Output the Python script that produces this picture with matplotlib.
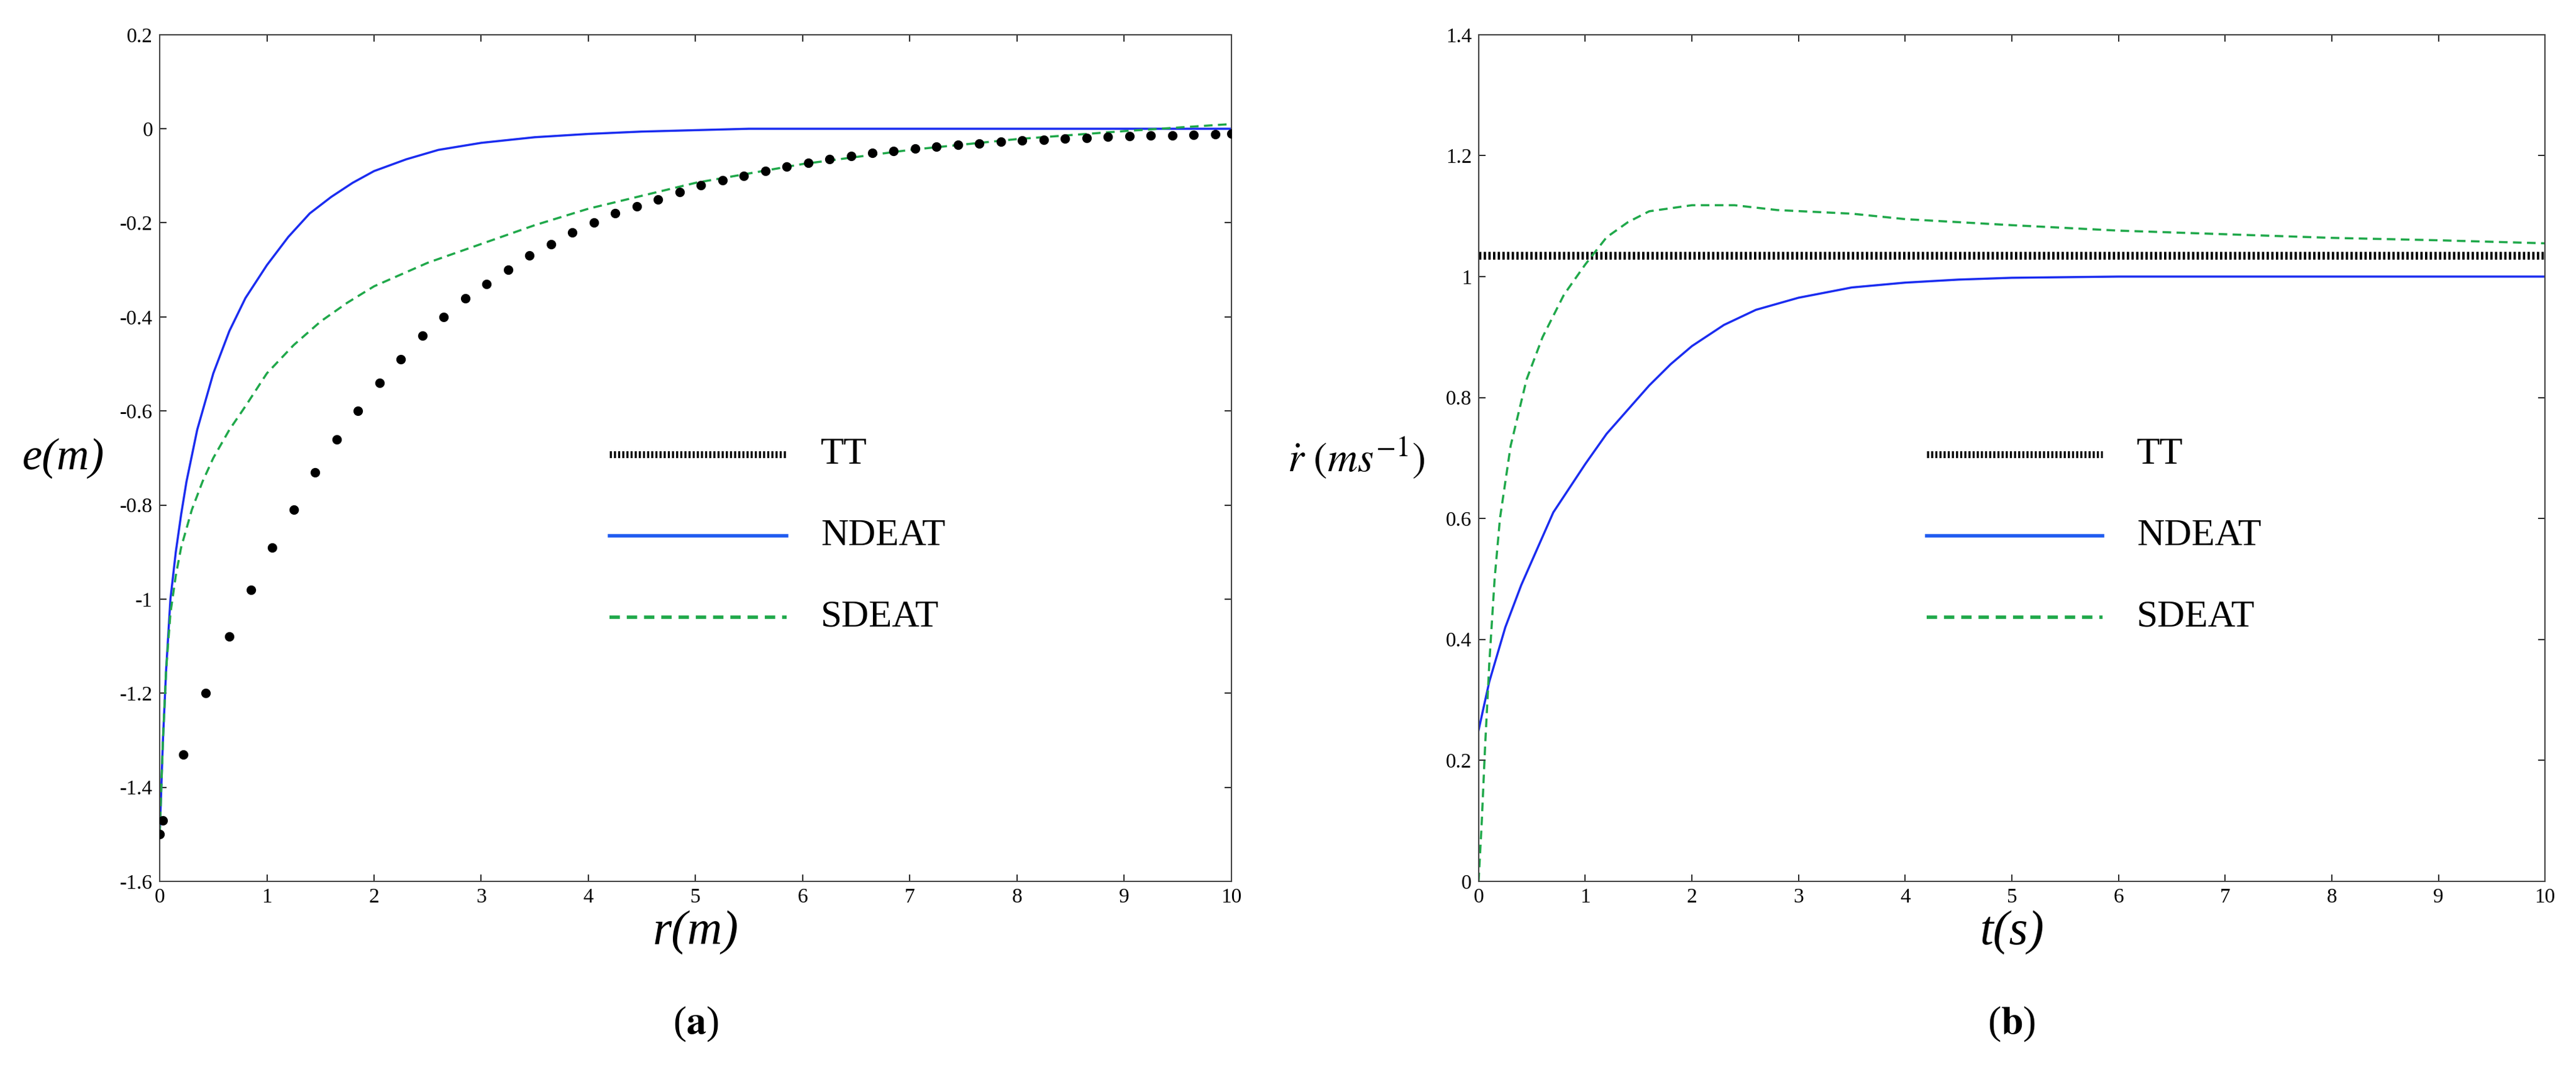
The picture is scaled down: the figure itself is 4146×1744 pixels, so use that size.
import matplotlib.pyplot as plt

plt.rcParams.update({'font.family': 'Liberation Serif', 'mathtext.fontset': 'stix'})

# left panel: e(m) vs r(m)
r_nd = [0, 0.03, 0.06, 0.1, 0.15, 0.2, 0.25, 0.35, 0.5, 0.65, 0.8, 1.0, 1.2, 1.4, 1.6, 1.8, 2.0, 2.3, 2.6, 3.0, 3.5, 4.0, 4.5, 5.0, 5.5, 7.0, 10.0]
e_nd = [-1.5, -1.3, -1.15, -1.0, -0.9, -0.82, -0.75, -0.64, -0.52, -0.43, -0.36, -0.29, -0.23, -0.18, -0.145, -0.115, -0.09, -0.065, -0.045, -0.03, -0.018, -0.011, -0.006, -0.003, 0.0, 0.0, 0.0]
r_sd = [0, 0.03, 0.06, 0.1, 0.15, 0.2, 0.3, 0.4, 0.5, 0.65, 0.8, 1.0, 1.25, 1.5, 1.75, 2.0, 2.5, 3.0, 3.5, 4.0, 5.0, 6.0, 7.0, 8.0, 9.0, 10.0]
e_sd = [-1.5, -1.3, -1.15, -1.03, -0.95, -0.89, -0.81, -0.75, -0.7, -0.64, -0.59, -0.52, -0.46, -0.41, -0.37, -0.335, -0.285, -0.245, -0.205, -0.17, -0.115, -0.075, -0.045, -0.022, -0.005, 0.01]
r_tt = [0, 0.03, 0.22, 0.43, 0.65, 0.85, 1.05, 1.25, 1.45, 1.65, 1.85, 2.05, 2.25, 2.45, 2.65, 2.85,
        3.05, 3.25, 3.45, 3.65, 3.85, 4.05, 4.25, 4.45, 4.65, 4.85, 5.05, 5.25, 5.45, 5.65, 5.85,
        6.05, 6.25, 6.45, 6.65, 6.85, 7.05, 7.25, 7.45, 7.65, 7.85, 8.05, 8.25, 8.45, 8.65, 8.85,
        9.05, 9.25, 9.45, 9.65, 9.85, 10.0]
e_tt = [-1.5, -1.47, -1.33, -1.2, -1.08, -0.98, -0.89, -0.81, -0.73, -0.66, -0.6, -0.54, -0.49, -0.44, -0.4, -0.36,
        -0.33, -0.3, -0.27, -0.245, -0.22, -0.2, -0.18, -0.165, -0.15, -0.135, -0.12, -0.11, -0.1, -0.09, -0.08,
        -0.072, -0.065, -0.058, -0.052, -0.047, -0.042, -0.038, -0.034, -0.031, -0.028, -0.025, -0.023, -0.021,
        -0.019, -0.017, -0.016, -0.015, -0.014, -0.013, -0.012, -0.011]

# right panel: r_dot vs t
t_nd = [0, 0.1, 0.25, 0.4, 0.55, 0.7, 0.85, 1.0, 1.2, 1.4, 1.6, 1.8, 2.0, 2.3, 2.6, 3.0, 3.5, 4.0, 4.5, 5.0, 6.0, 10.0]
v_nd = [0.25, 0.33, 0.42, 0.49, 0.55, 0.61, 0.65, 0.69, 0.74, 0.78, 0.82, 0.855, 0.885, 0.92, 0.945, 0.965, 0.982, 0.99, 0.995, 0.998, 1.0, 1.0]
t_sd = [0, 0.03, 0.06, 0.1, 0.15, 0.2, 0.3, 0.45, 0.6, 0.8, 1.0, 1.2, 1.4, 1.6, 2.0, 2.4, 2.8, 3.5, 4.0, 4.5, 5.0, 6.0, 7.0, 8.0, 9.0, 10.0]
v_sd = [0.0, 0.1, 0.22, 0.36, 0.5, 0.6, 0.72, 0.83, 0.9, 0.97, 1.02, 1.065, 1.09, 1.108, 1.118, 1.118, 1.11, 1.104, 1.095, 1.09, 1.085, 1.076, 1.07, 1.064, 1.06, 1.055]
t_tt = [0, 10]
v_tt = [1.035, 1.035]

legend_labels = ['TT', 'NDEAT', 'SDEAT']

fig = plt.figure(figsize=(41.46, 17.44), dpi=100)
ax1 = fig.add_axes([0.062, 0.187, 0.416, 0.781])
ax2 = fig.add_axes([0.574, 0.187, 0.414, 0.781])

blue = '#1a2cf0'
green = '#1fa84a'

ax1.plot(r_tt, e_tt, 'o', color='black', ms=10, zorder=3)
ax1.plot(r_nd, e_nd, color=blue, lw=2.5)
ax1.plot(r_sd, e_sd, color=green, lw=2.5, ls=(0, (4, 2.5)))
ax1.set_xlim(0, 10)
ax1.set_ylim(-1.6, 0.2)
ax1.set_yticks([0.2, 0, -0.2, -0.4, -0.6, -0.8, -1, -1.2, -1.4, -1.6])
ax1.set_yticklabels(['0.2', '0', '-0.2', '-0.4', '-0.6', '-0.8', '-1', '-1.2', '-1.4', '-1.6'])
ax1.set_xlabel('r(m)', fontsize=56, style='italic')
ax1.set_ylabel('e(m)', fontsize=52, style='italic', rotation=0, ha='center', va='center')
ax1.yaxis.set_label_coords(-0.09, 0.5)

ax2.plot(t_tt, v_tt, color='black', lw=9, ls=(0, (0.3, 0.3)))
ax2.plot(t_nd, v_nd, color=blue, lw=2.5)
ax2.plot(t_sd, v_sd, color=green, lw=2.5, ls=(0, (4, 2.5)))
ax2.set_xlim(0, 10)
ax2.set_ylim(0, 1.4)
ax2.set_yticks([0, 0.2, 0.4, 0.6, 0.8, 1, 1.2, 1.4])
ax2.set_yticklabels(['0', '0.2', '0.4', '0.6', '0.8', '1', '1.2', '1.4'])
ax2.set_xlabel('t(s)', fontsize=56, style='italic')
ax2.set_ylabel(r'$\dot{r}\ (ms^{-1})$', fontsize=48, rotation=0, ha='center', va='center')
ax2.yaxis.set_label_coords(-0.115, 0.5)

for ax in (ax1, ax2):
    ax.set_xticks(range(0, 11))
    ax.tick_params(direction='in', length=8, width=1.2, top=True, right=True, labelsize=24, pad=8)
    for s in ax.spines.values():
        s.set_linewidth(1.5)
        s.set_color('#444444')
    # manual legend
    ys = [0.504, 0.408, 0.312]
    styles = [dict(color='black', lw=8, ls=(0, (0.3, 0.3))),
              dict(color='#1f5bf0', lw=4),
              dict(color=green, lw=4, ls=(0, (3, 2)))]
    for y, lab, st in zip(ys, legend_labels, styles):
        ax.plot([0.42, 0.585], [y, y], transform=ax.transAxes, **st)
        ax.text(0.617, y, lab, transform=ax.transAxes, fontsize=44, va='center', ha='left')

fig.text(0.27, 0.055, r'($\mathbf{a}$)', fontsize=46, ha='center', va='center')
fig.text(0.781, 0.055, r'($\mathbf{b}$)', fontsize=46, ha='center', va='center')

fig.savefig('out.png', dpi=100)
